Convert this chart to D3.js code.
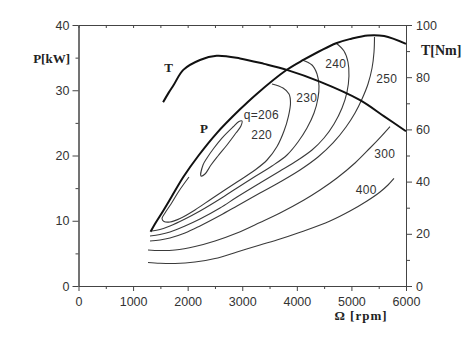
<!DOCTYPE html>
<html><head><meta charset="utf-8">
<script src="https://cdn.jsdelivr.net/npm/d3@7"></script>
<style>body{margin:0;background:#fff}svg{display:block}</style>
</head><body>
<svg id="c" width="474" height="338"></svg>
<script>
// ---- tick labels ----
const rpmTicks = [0, 1000, 2000, 3000, 4000, 5000, 6000];
const rpmMinor = [500, 1500, 2500, 3500, 4500, 5500];
const rpmTop = [0, 500, 1000, 1500, 2000, 2500, 3000, 3500, 4000, 4500, 5000, 5500, 6000];
const powerTicks = [0, 10, 20, 30, 40];
const powerMinor = [5, 15, 25, 35];
const torqueTicks = [0, 20, 40, 60, 80, 100];
const torqueMinor = [10, 30, 50, 70, 90];

// ---- full-load power curve P [kW] ----
const powerRpm = [1320, 1400, 1550, 1700, 1920, 2200, 2530, 2950, 3260, 3810, 4110, 4720, 5000, 5300, 5600, 6000];
const powerKW  = [8.3, 9.5, 11.5, 13.6, 16.7, 20.0, 23.4, 27.0, 29.4, 33.1, 34.6, 37.2, 37.9, 38.4, 38.3, 37.1];

// ---- full-load torque curve T [Nm] ----
const torqueRpm = [1550, 1650, 1743, 1920, 2226, 2531, 2958, 3400, 3817, 4420, 5150, 5600, 6000];
const torqueNm  = [70.4, 74.0, 77.0, 82.8, 86.6, 88.2, 87.2, 85.1, 82.8, 78.3, 71.3, 65.0, 59.3];

// ---- specific consumption contours q [g/kWh] ----
const q206Rpm = [2244, 2281, 2354, 2482, 2628, 2829, 2939, 2994, 2976, 2884, 2720, 2555, 2427, 2317];
const q206Kw  = [16.86, 18.54, 19.62, 21.15, 22.68, 24.37, 25.21, 25.29, 24.52, 23.45, 21.61, 19.92, 18.54, 17.16];

const q220Rpm = [2024, 1841, 1695, 1585, 1530, 1566, 1676, 1860, 2134, 2446, 2904, 3234, 3454, 3637, 3765, 3847, 3884, 3857, 3747, 3545];
const q220Kw  = [16.70, 14.56, 12.57, 11.19, 10.34, 9.89, 9.81, 10.34, 11.65, 13.41, 15.94, 17.78, 19.31, 21.38, 23.75, 26.05, 28.05, 29.43, 30.34, 30.96];

const q230Rpm = [1347, 1493, 1676, 1951, 2226, 2592, 2904, 3234, 3545, 3820, 4021, 4186, 4315, 4388, 4406, 4370, 4278, 4095];
const q230Kw  = [8.43, 8.66, 9.20, 10.27, 11.49, 13.33, 15.02, 16.78, 18.39, 20.08, 22.07, 24.21, 26.51, 28.81, 30.65, 32.49, 33.87, 34.64];

const q240Rpm = [1310, 1493, 1676, 1951, 2226, 2592, 2904, 3325, 3692, 4021, 4278, 4498, 4681, 4828, 4919, 4955, 4937, 4864, 4717];
const q240Kw  = [7.66, 7.89, 8.28, 9.20, 10.27, 11.95, 13.64, 15.79, 17.62, 19.31, 20.84, 22.68, 24.83, 27.28, 29.73, 32.18, 34.33, 36.02, 37.24];

const q250Rpm = [1310, 1493, 1676, 1951, 2226, 2592, 2904, 3325, 3692, 4058, 4388, 4663, 4901, 5066, 5194, 5304, 5378, 5414, 5423];
const q250Kw  = [6.90, 7.05, 7.36, 8.12, 9.20, 10.80, 12.26, 14.25, 15.94, 17.78, 19.77, 21.92, 24.37, 26.51, 28.66, 30.96, 33.41, 35.86, 38.16];

const q300Rpm = [1273, 1493, 1768, 2134, 2501, 2904, 3325, 3692, 4131, 4425, 4736, 5066, 5341, 5542, 5707];
const q300Kw  = [5.52, 5.44, 5.52, 6.05, 6.90, 8.12, 9.73, 11.19, 13.18, 14.71, 16.55, 18.85, 21.15, 22.91, 24.44];

const q400Rpm = [1273, 1493, 1768, 2134, 2501, 2904, 3325, 3692, 4131, 4608, 4974, 5286, 5524, 5670, 5780];
const q400Kw  = [3.60, 3.48, 3.45, 3.68, 4.21, 5.21, 6.28, 7.20, 8.43, 9.96, 11.49, 13.03, 14.41, 15.48, 16.48];

// ---- curve labels: text, rpm, kW ----
const labelText = ["q=206", "220", "230", "240", "250", "300", "400"];
const labelRpm  = [3351, 3355, 4183, 4714, 5647, 5610, 5272];
const labelKw   = [26.2, 23.14, 28.89, 34.02, 31.8, 20.31, 14.79];

const svg = d3.select('#c');
const x  = d3.scaleLinear().domain([0, 6000]).range([78.5, 406]);
const yP = d3.scaleLinear().domain([0, 40]).range([286, 25]);
const yT = d3.scaleLinear().domain([0, 100]).range([286, 25]);

const SANS = "'Liberation Sans', Arial, sans-serif";
const SERIF = "'Liberation Serif', 'Times New Roman', serif";
const axisColor = '#444';

function styleAxis(g) {
  g.selectAll('path.domain').attr('stroke', axisColor).attr('stroke-width', 1);
  g.selectAll('.tick line').attr('stroke', axisColor).attr('stroke-width', 1);
  g.selectAll('.tick text').attr('fill', '#333').attr('font-family', SANS).attr('font-size', 12.5);
}

// bottom
svg.append('g').attr('transform', 'translate(0,286)')
  .call(d3.axisBottom(x).tickValues(rpmTicks).tickSize(5).tickSizeOuter(0).tickPadding(6).tickFormat(d3.format('d')))
  .call(styleAxis);
svg.append('g').attr('transform', 'translate(0,286)')
  .call(d3.axisBottom(x).tickValues(rpmMinor).tickSize(3).tickSizeOuter(0).tickFormat(''))
  .call(styleAxis);
// top (inward ticks)
svg.append('g').attr('transform', 'translate(0,25)')
  .call(d3.axisTop(x).tickValues(rpmTop).tickSize(-3).tickSizeOuter(0).tickFormat(''))
  .call(styleAxis);
// left
svg.append('g').attr('transform', 'translate(78.5,0)')
  .call(d3.axisLeft(yP).tickValues(powerTicks).tickSize(6).tickSizeOuter(0).tickPadding(3))
  .call(styleAxis);
svg.append('g').attr('transform', 'translate(78.5,0)')
  .call(d3.axisLeft(yP).tickValues(powerMinor).tickSize(3).tickSizeOuter(0).tickFormat(''))
  .call(styleAxis);
// right
svg.append('g').attr('transform', 'translate(406,0)')
  .call(d3.axisRight(yT).tickValues(torqueTicks).tickSize(6).tickSizeOuter(0).tickPadding(4))
  .call(styleAxis);
svg.append('g').attr('transform', 'translate(406,0)')
  .call(d3.axisRight(yT).tickValues(torqueMinor).tickSize(4).tickSizeOuter(0).tickFormat(''))
  .call(styleAxis);

// axis titles
svg.append('text').attr('x', 70).attr('y', 62.5).attr('text-anchor', 'end')
  .attr('font-family', SERIF).attr('font-weight', 'bold').attr('font-size', 13).attr('fill', '#222').text('P[kW]');
svg.append('text').attr('x', 421).attr('y', 54.5)
  .attr('font-family', SERIF).attr('font-weight', 'bold').attr('font-size', 14).attr('fill', '#222').text('T[Nm]');
svg.append('text').attr('x', 361).attr('y', 320).attr('text-anchor', 'middle')
  .attr('font-family', SERIF).attr('font-weight', 'bold').attr('font-size', 13).attr('letter-spacing', 1).attr('fill', '#222').text('Ω [rpm]');

// contours
const contours = [
  [q206Rpm, q206Kw, true], [q220Rpm, q220Kw, false], [q230Rpm, q230Kw, false],
  [q240Rpm, q240Kw, false], [q250Rpm, q250Kw, false], [q300Rpm, q300Kw, false], [q400Rpm, q400Kw, false]
];
const zipPts = (a, b) => a.map((v, i) => [v, b[i]]);
const lineP = d3.line().x(d => x(d[0])).y(d => yP(d[1])).curve(d3.curveCatmullRom.alpha(0.5));
const lineClosed = d3.line().x(d => x(d[0])).y(d => yP(d[1])).curve(d3.curveCatmullRomClosed.alpha(0.5));
contours.forEach(([r, k, closed]) => {
  svg.append('path').attr('d', (closed ? lineClosed : lineP)(zipPts(r, k)))
    .attr('fill', 'none').attr('stroke', '#3a3a3a').attr('stroke-width', 1.1);
});

// power & torque
svg.append('path').attr('d', lineP(zipPts(powerRpm, powerKW)))
  .attr('fill', 'none').attr('stroke', '#111').attr('stroke-width', 2);
const lineT = d3.line().x(d => x(d[0])).y(d => yT(d[1])).curve(d3.curveCatmullRom.alpha(0.5));
svg.append('path').attr('d', lineT(zipPts(torqueRpm, torqueNm)))
  .attr('fill', 'none').attr('stroke', '#111').attr('stroke-width', 2);

// labels
labelText.forEach((t, i) => {
  svg.append('text').attr('x', x(labelRpm[i])).attr('y', yP(labelKw[i]) + 4.3)
    .attr('text-anchor', 'middle').attr('font-family', SANS).attr('font-size', 12)
    .attr('letter-spacing', 0.3).attr('fill', '#333').text(t);
});
svg.append('text').attr('x', x(1650)).attr('y', yP(33.5) + 4.5).attr('text-anchor', 'middle')
  .attr('font-family', SERIF).attr('font-weight', 'bold').attr('font-size', 13).attr('fill', '#222').text('T');
svg.append('text').attr('x', x(2299)).attr('y', yP(24.2) + 4.5).attr('text-anchor', 'middle')
  .attr('font-family', SERIF).attr('font-weight', 'bold').attr('font-size', 13).attr('fill', '#222').text('P');
</script>
</body></html>
